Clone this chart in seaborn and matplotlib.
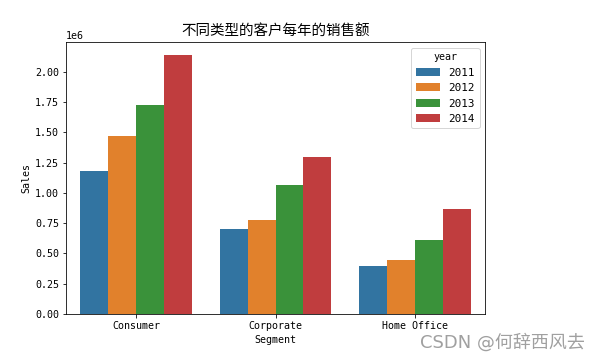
import pandas as pd
import seaborn as sns
import matplotlib.pyplot as plt

segments = ['Consumer', 'Corporate', 'Home Office']
years = ['2011', '2012', '2013', '2014']
consumer_sales = [1.18e6, 1.47e6, 1.727e6, 2.14e6]
corporate_sales = [0.698e6, 0.777e6, 1.066e6, 1.297e6]
home_office_sales = [0.397e6, 0.446e6, 0.612e6, 0.868e6]

rows = []
for seg, vals in zip(segments, [consumer_sales, corporate_sales, home_office_sales]):
    for y, v in zip(years, vals):
        rows.append({'Segment': seg, 'year': y, 'Sales': v})
df = pd.DataFrame(rows)

# latin text in a monospace face, CJK falls back to Noto
mono = ['DejaVu Sans Mono', 'Noto Sans CJK SC']
plt.rcParams['font.family'] = mono
plt.rcParams['font.size'] = 10

fig = plt.figure(figsize=(601 / 72, 360 / 72), dpi=72)
ax = fig.add_axes([0.11, 0.128, 0.697, 0.755])
sns.barplot(data=df, x='Segment', y='Sales', hue='year', ax=ax)
ax.set_title('不同类型的客户每年的销售额',
             family=['Noto Sans CJK SC', 'DejaVu Sans'], fontsize=14.5)
ax.tick_params(labelsize=10)
ax.legend(title='year', loc='upper right', fontsize=11, title_fontsize=10,
          handlelength=2.2)
fig.text(0.974, 0.05, 'CSDN @何辞西风去', ha='right', va='center',
         color='#a0a0a0', fontsize=18, family=['DejaVu Sans', 'Noto Sans CJK SC'])

plt.savefig('out.png', dpi=72)
